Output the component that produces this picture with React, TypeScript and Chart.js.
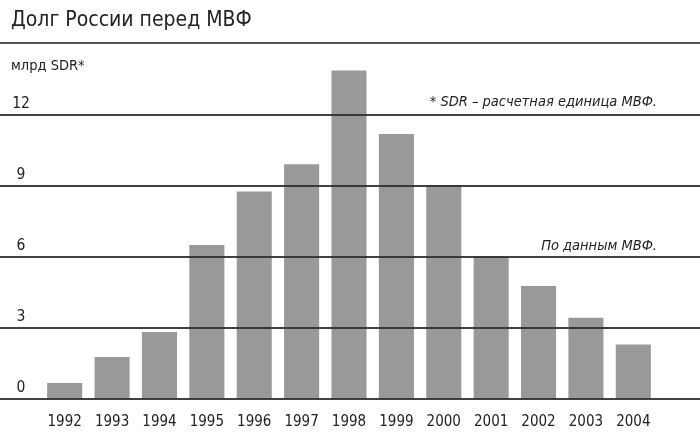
import { useEffect, useRef } from 'react'
import { Chart, registerables } from 'chart.js'

Chart.register(...registerables)

const years = ['1992', '1993', '1994', '1995', '1996', '1997', '1998', '1999', '2000', '2001', '2002', '2003', '2004']
const debt = [0.68, 1.77, 2.83, 6.51, 8.77, 9.92, 13.88, 11.2, 9.03, 6.02, 4.77, 3.43, 2.3]
const yTicks = [0, 3, 6, 9, 12]

const FONT = '"Liberation Sans Narrow", "DejaVu Sans Condensed", "Arial Narrow", sans-serif'
const BAR = '#999999'
const LINE = 'rgba(45, 45, 45, 0.9)'
const TEXT = '#222222'

// full-width horizontal rules + tick labels sitting above them
const rulesPlugin = {
  id: 'rules',
  afterDatasetsDraw(chart: Chart) {
    const { ctx } = chart
    const y = chart.scales.y
    ctx.save()
    ctx.strokeStyle = LINE
    ctx.lineWidth = 2
    ctx.fillStyle = TEXT
    ctx.font = `15.5px ${FONT}`
    ctx.textAlign = 'center'
    ctx.textBaseline = 'middle'
    yTicks.forEach(v => {
      const py = Math.round(y.getPixelForValue(v))
      ctx.beginPath()
      ctx.moveTo(0, py)
      ctx.lineTo(chart.width, py)
      ctx.stroke()
      ctx.fillText(String(v), 21, py - 11)
    })
    ctx.restore()
  },
}

export default function App() {
  const chartRef = useRef<HTMLCanvasElement>(null)
  const chartInstance = useRef<Chart | null>(null)

  useEffect(() => {
    document.body.style.margin = '0'
    if (!chartRef.current) return
    if (chartInstance.current) chartInstance.current.destroy()

    chartInstance.current = new Chart(chartRef.current, {
      type: 'bar',
      data: {
        labels: years,
        datasets: [
          {
            data: debt,
            backgroundColor: BAR,
            barPercentage: 0.74,
            categoryPercentage: 1,
          },
        ],
      },
      options: {
        responsive: true,
        maintainAspectRatio: false,
        animation: false,
        layout: { padding: { left: 41, right: 43, top: 44, bottom: 0 } },
        plugins: {
          legend: { display: false },
          tooltip: { enabled: false },
        },
        scales: {
          x: {
            grid: { display: false, drawTicks: false },
            border: { display: false },
            ticks: {
              color: TEXT,
              padding: 14,
              font: { family: FONT, size: 15 },
              maxRotation: 0,
            },
            afterFit(scale) {
              scale.height = 37
            },
          },
          y: {
            display: false,
            min: 0,
            max: 15,
          },
        },
      },
      plugins: [rulesPlugin],
    })

    return () => {
      if (chartInstance.current) {
        chartInstance.current.destroy()
        chartInstance.current = null
      }
    }
  }, [])

  return (
    <div style={{ position: 'relative', width: 700, height: 436, background: '#fff', fontFamily: FONT, color: TEXT }}>
      <div style={{ position: 'absolute', left: 0, top: 0, width: 700, height: 436 }}>
        <canvas ref={chartRef} />
      </div>
      <div style={{ position: 'absolute', left: 11, top: 6, fontSize: 21, lineHeight: '26px', whiteSpace: 'nowrap' }}>
        Долг России перед МВФ
      </div>
      <div style={{ position: 'absolute', left: 0, top: 42, width: 700, height: 2, background: '#555' }} />
      <div style={{ position: 'absolute', left: 11, top: 56, fontSize: 14.5, lineHeight: '18px', whiteSpace: 'nowrap' }}>
        млрд SDR*
      </div>
      <div style={{ position: 'absolute', right: 43, top: 92, fontSize: 14.5, lineHeight: '18px', fontStyle: 'italic', whiteSpace: 'nowrap' }}>
        * SDR – расчетная единица МВФ.
      </div>
      <div style={{ position: 'absolute', right: 43, top: 236, fontSize: 14.5, lineHeight: '18px', fontStyle: 'italic', whiteSpace: 'nowrap' }}>
        По данным МВФ.
      </div>
    </div>
  )
}
